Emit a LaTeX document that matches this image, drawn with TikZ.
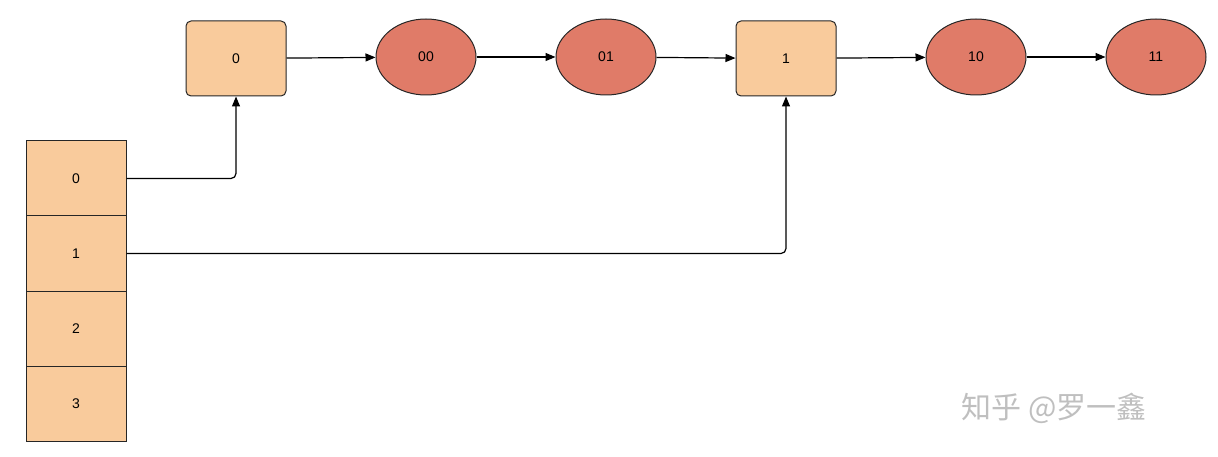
\documentclass[tikz,border=0pt]{standalone}
\usepackage{fontspec}
\setmainfont{Liberation Sans}
\newfontfamily\cjk{Noto Sans CJK SC}
\usetikzlibrary{shapes.geometric,arrows.meta}
\definecolor{boxc}{HTML}{F9CB9C}
\definecolor{ellc}{HTML}{E07B68}
\tikzset{
 box/.style={draw=black!85,fill=boxc,rounded corners=5pt,minimum width=100pt,minimum height=75pt,inner sep=0pt,font=\fontsize{14}{14}\selectfont,line width=1pt},
 ell/.style={ellipse,draw=black!85,fill=ellc,minimum width=100pt,minimum height=76pt,inner sep=0pt,font=\fontsize{14}{14}\selectfont,line width=1pt},
 cell/.style={draw=black!85,fill=boxc,minimum width=100pt,minimum height=75pt,inner sep=0pt,font=\fontsize{14}{14}\selectfont,line width=1pt},
 arr/.style={-{Triangle[length=10pt,width=8pt]},line width=1.2pt,rounded corners=5pt}
}
\begin{document}
\begin{tikzpicture}[x=1pt,y=-1pt]
\useasboundingbox (0,0) rectangle (1218,457);
\node[box] (r0) at (236,58.5) {0};
\node[ell] (e00) at (426,57) {00};
\node[ell] (e01) at (606,57) {01};
\node[box] (r1) at (786,58.5) {1};
\node[ell] (e10) at (976,57) {10};
\node[ell] (e11) at (1156,57) {11};
\node[cell] (c0) at (76,178.5) {0};
\node[cell] (c1) at (76,253.5) {1};
\node[cell] (c2) at (76,328.5) {2};
\node[cell] (c3) at (76,403.5) {3};
\draw[arr] (r0) -- (e00);
\draw[arr] (e00) -- (e01);
\draw[arr] (e01) -- (r1);
\draw[arr] (r1) -- (e10);
\draw[arr] (e10) -- (e11);
\draw[arr] (c0.east) -| (r0.south);
\draw[arr] (c1.east) -| (r1.south);
\node[text=black!25,font=\cjk\fontsize{30}{30}\selectfont,anchor=west] (wm) at (958,408) {知乎 @罗一鑫};
\end{tikzpicture}
\end{document}
